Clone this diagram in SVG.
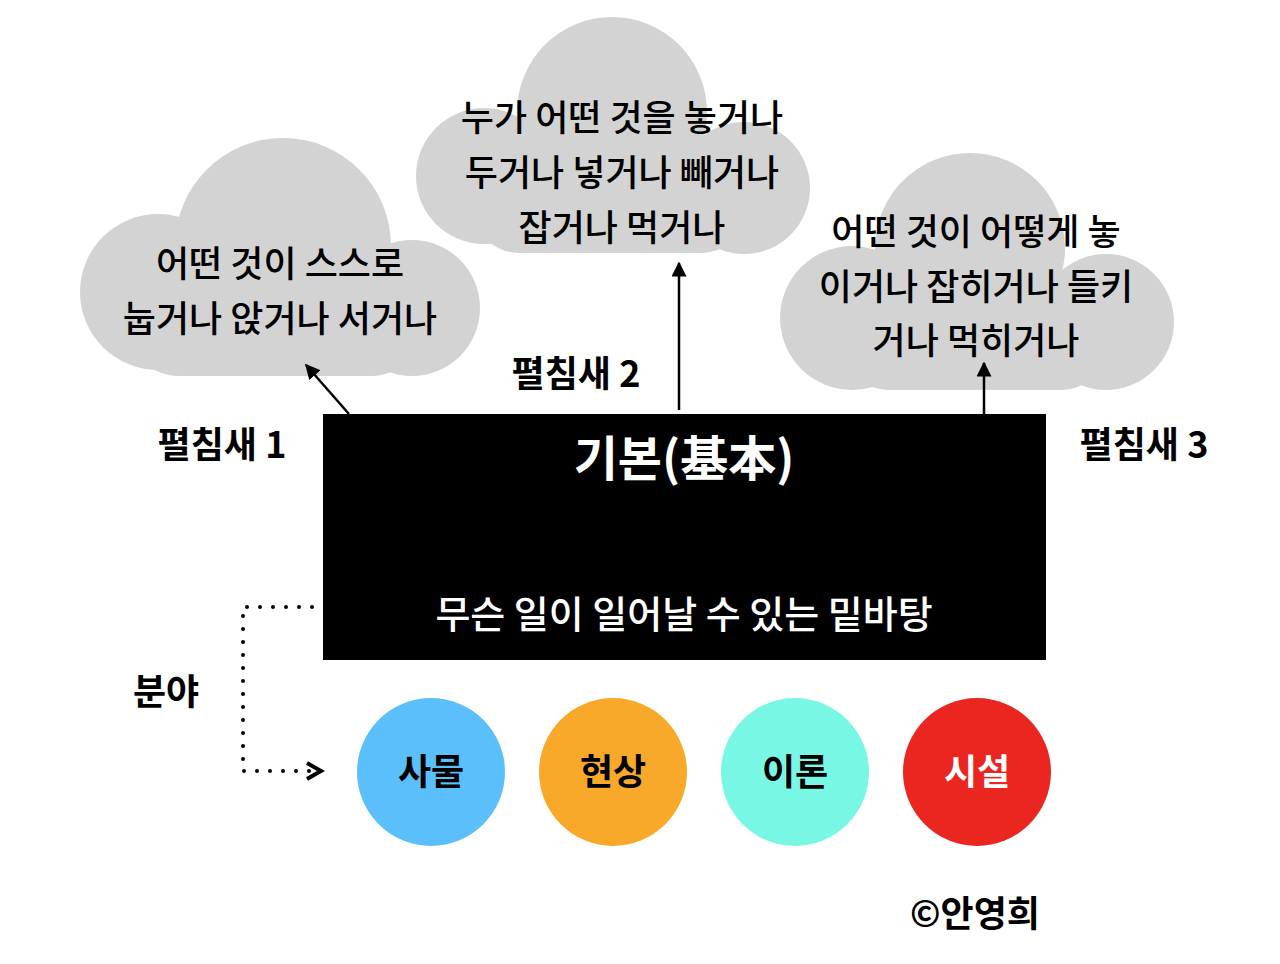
<svg xmlns="http://www.w3.org/2000/svg" width="1280" height="964" viewBox="0 0 1280 964">
<style>
.c{fill:#d3d3d3}
text{font-family:"Noto Sans CJK KR","Liberation Sans",sans-serif;text-anchor:middle;fill:#000}
.t{font-size:36px;font-weight:500}
.l{font-size:36px;font-weight:700}
.w{fill:#fff}
.ln{stroke:#000;stroke-width:2.5;fill:none}
.dot{stroke:#000;stroke-width:4;stroke-linecap:round;stroke-dasharray:0 13;fill:none}
</style>
<defs>
<marker id="a" viewBox="0 0 10 10" refX="9" refY="5" markerWidth="6" markerHeight="6" orient="auto"><path d="M0,0L10,5L0,10z" fill="#000"/></marker>
</defs>
<rect width="1280" height="964" fill="#fff"/>
<g id="cloud1" class="c">
<circle cx="283" cy="246" r="108"/><circle cx="158" cy="292" r="78"/><circle cx="412" cy="308" r="68"/><rect x="130" y="280" width="290" height="96" rx="48"/>
</g>
<g id="cloud2" class="c">
<circle cx="612" cy="112" r="95"/><circle cx="484" cy="176" r="68"/><circle cx="744" cy="188" r="66"/><rect x="470" y="150" width="280" height="103" rx="50"/>
</g>
<g id="cloud3" class="c">
<circle cx="970" cy="248" r="95"/><circle cx="852" cy="318" r="72"/><circle cx="1106" cy="322" r="68"/><rect x="840" y="290" width="270" height="100" rx="50"/>
</g>
<g id="texts">
<text class="t" x="280" y="277">어떤 것이 스스로</text>
<text class="t" x="280" y="332">눕거나 앉거나 서거나</text>
<text class="t" x="622" y="131">누가 어떤 것을 놓거나</text>
<text class="t" x="622" y="186">두거나 넣거나 빼거나</text>
<text class="t" x="622" y="241">잡거나 먹거나</text>
<text class="t" x="976" y="245">어떤 것이 어떻게 놓</text>
<text class="t" x="976" y="300">이거나 잡히거나 들키</text>
<text class="t" x="976" y="354">거나 먹히거나</text>
<text class="l" x="222" y="458">펼침새 1</text>
<text class="l" x="576" y="387">펼침새 2</text>
<text class="l" x="1144" y="458">펼침새 3</text>
<text class="l" x="166" y="705">분야</text>
<text class="l" x="975" y="927">©안영희</text>
</g>
<g id="base">
<rect x="323" y="414" width="723" height="246" fill="#000"/>
<text class="w" x="684" y="476" style="font-size:48px;font-weight:700">기본(基本)</text>
<text class="w" x="684" y="628" style="font-size:38px;font-weight:500">무슨 일이 일어날 수 있는 밑바탕</text>
</g>
<g id="n1"><circle cx="431" cy="772" r="74" fill="#5bbffb"/><text class="l" x="431" y="785">사물</text></g>
<g id="n2"><circle cx="613" cy="772" r="74" fill="#f9a92a"/><text class="l" x="613" y="785">현상</text></g>
<g id="n3"><circle cx="795" cy="772" r="74" fill="#77f7e4"/><text class="l" x="795" y="785">이론</text></g>
<g id="n4"><circle cx="977" cy="772" r="74" fill="#eb2620"/><text class="l w" x="977" y="785">시설</text></g>
<g id="connectors">
<line class="ln" x1="349" y1="414" x2="306" y2="365" marker-end="url(#a)"/>
<line class="ln" x1="679" y1="410" x2="679" y2="263" marker-end="url(#a)"/>
<line class="ln" x1="984" y1="414" x2="984" y2="363" marker-end="url(#a)"/>
<path class="dot" d="M312,607H243V771H310"/>
<path d="M307,763L321,771L307,779" stroke="#000" stroke-width="4" fill="none"/>
</g>
</svg>
